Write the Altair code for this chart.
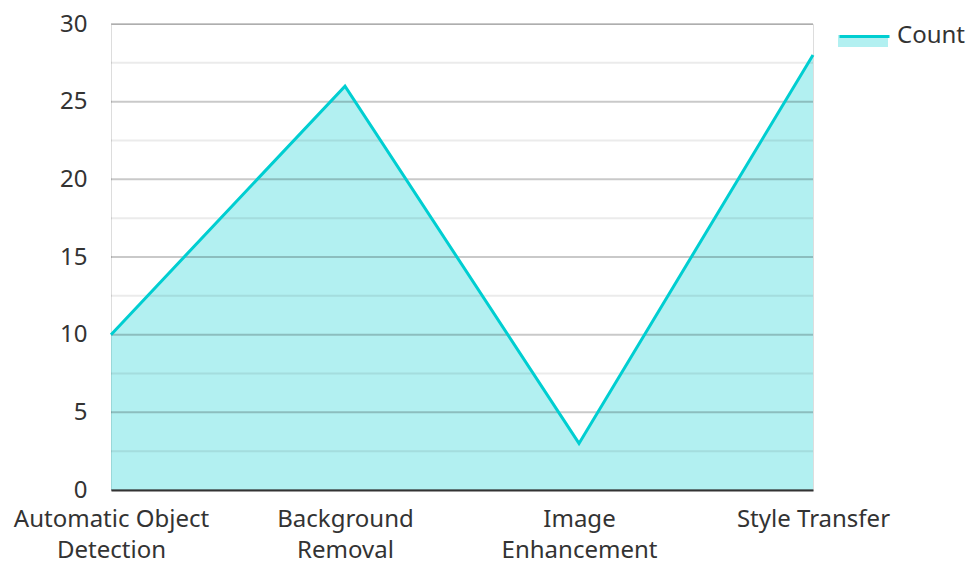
import altair as alt
import pandas as pd

categories = ["Automatic Object Detection", "Background Removal", "Image Enhancement", "Style Transfer"]
counts = [10, 26, 3, 28]
wrapped_labels = [["Automatic Object", "Detection"], ["Background", "Removal"], ["Image", "Enhancement"], ["Style Transfer"]]
series_name = "Count"
y_ticks = [0, 2.5, 5, 7.5, 10, 12.5, 15, 17.5, 20, 22.5, 25, 27.5, 30]

df = pd.DataFrame({"category": categories, "value": counts, "series": [series_name] * len(categories)})

# label expression that maps category -> wrapped lines
expr = "''"
for cat, lines in reversed(list(zip(categories, wrapped_labels))):
    arr = "[" + ",".join("'" + l + "'" for l in lines) + "]"
    expr = f"datum.label === '{cat}' ? {arr} : ({expr})"

LINE = "#00CED1"
FONT = "Noto Sans"
FS = 24

x_enc = alt.X(
    "category:N",
    sort=categories,
    scale=alt.Scale(type="point", padding=0),
    axis=alt.Axis(
        title=None,
        labelAngle=0,
        labelExpr=expr,
        labelFontSize=FS,
        labelColor="#333333",
        labelFont=FONT,
        labelLineHeight=31,
        labelPadding=17,
        labelLimit=1000,
        ticks=False,
        domainColor="#333333",
        domainWidth=2,
        grid=False,
        zindex=1,
    ),
)
y_enc = alt.Y(
    "value:Q",
    scale=alt.Scale(domain=[0, 30], nice=False),
    axis=alt.Axis(
        title=None,
        values=y_ticks,
        labelExpr="datum.value % 5 === 0 ? datum.label : ''",
        labelFontSize=FS,
        labelColor="#333333",
        labelFont=FONT,
        labelPadding=24,
        ticks=False,
        domain=False,
        grid=False,
    ),
)

# grid lines drawn over the area (semi-transparent)
grid_major = [v for v in y_ticks if v % 5 == 0]
grid_minor = [v for v in y_ticks if v % 5 != 0]
gdf = pd.DataFrame({"gv": grid_major + grid_minor, "kind": ["major"] * len(grid_major) + ["minor"] * len(grid_minor)})

area = alt.Chart(df).mark_area(opacity=0.3).encode(
    x=x_enc,
    y=y_enc,
    fill=alt.Fill(
        "series:N",
        scale=alt.Scale(range=[LINE]),
        legend=alt.Legend(
            title=None,
            orient="none",
            legendX=727,
            legendY=-15,
            symbolType="M -1 0.04 L 1 0.04 L 1 0.52 L -1 0.52 Z",
            symbolSize=2500,
            symbolOpacity=0.3,
            symbolStrokeWidth=0,
            labelFontSize=FS,
            labelFont=FONT,
            labelExpr="''",
            labelOffset=6,
            padding=0,
        ),
    ),
)

grid = alt.Chart(gdf).mark_rule(strokeWidth=2).encode(
    y=alt.Y("gv:Q"),
    color=alt.Color(
        "kind:N",
        scale=alt.Scale(domain=["major", "minor"], range=["rgba(0,0,0,0.21)", "rgba(0,0,0,0.08)"]),
        legend=None,
    ),
)

line = alt.Chart(df).mark_line(strokeWidth=3, color=LINE).encode(
    x="category:N",
    y="value:Q",
    stroke=alt.Stroke(
        "series:N",
        scale=alt.Scale(range=[LINE]),
        legend=alt.Legend(
            title=None,
            orient="none",
            legendX=727,
            legendY=-15,
            symbolType="M -1 0.04 L 1 0.04",
            symbolSize=2500,
            symbolStrokeWidth=3,
            labelFontSize=FS,
            labelFont=FONT,
            labelColor="#333333",
            labelOffset=6,
            padding=0,
        ),
    ),
)

chart = (
    alt.layer(area, grid, line)
    .resolve_legend(fill="independent", stroke="independent", color="independent")
    .resolve_scale(color="independent", fill="independent", stroke="independent")
    .properties(
        width=702,
        height=466,
        autosize=alt.AutoSizeParams(type="none"),
        padding={"left": 111, "top": 24, "right": 157, "bottom": 73},
    )
    .configure_view(strokeWidth=0, stroke="transparent")
    .configure(font=FONT)
)

chart.save("out.html", embed_options={"renderer": "svg", "actions": False})
